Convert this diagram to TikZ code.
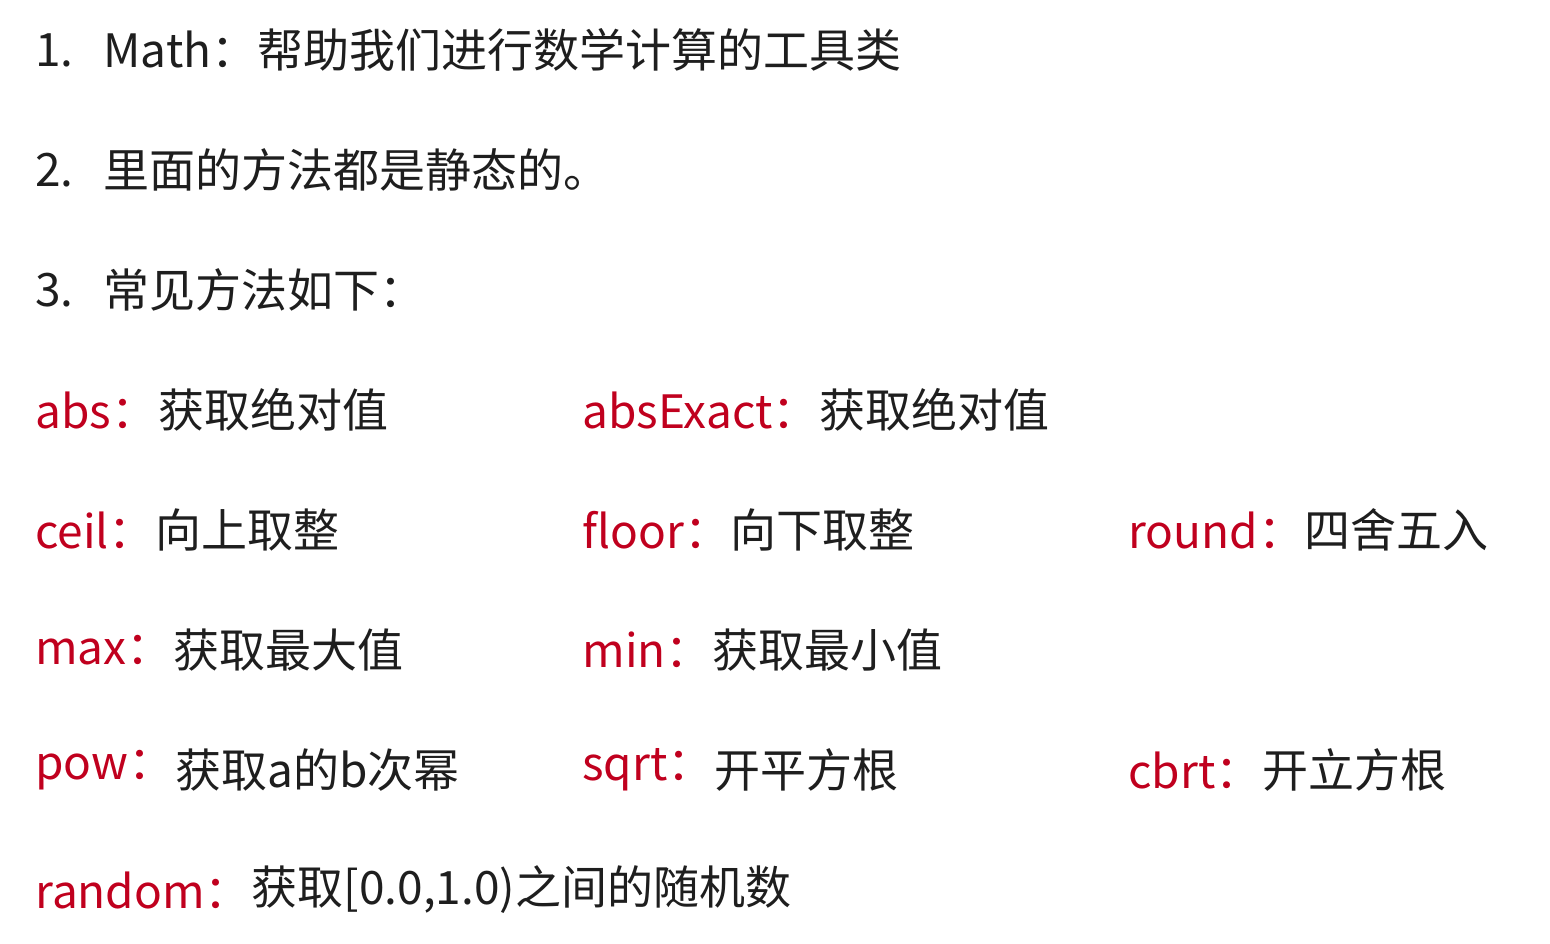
\documentclass[tikz,border=0pt]{standalone}
\usepackage{fontspec}
\setmainfont{Noto Sans CJK SC}
\definecolor{kw}{HTML}{C0001E}
\definecolor{tx}{HTML}{1E1E1E}
\begin{document}
\begin{tikzpicture}[x=0.5pt,y=-0.5pt,
  t/.style={anchor=west,inner sep=0pt,font=\fontsize{23}{28}\selectfont,text=tx},
  k/.style={t,text=kw}]
\useasboundingbox (0,0) rectangle (1550,943);
\node[t] (n1) at (35,50) {1.};
\node[t] (l1) at (103,50) {Math：帮助我们进行数学计算的工具类};
\node[t] (n2) at (35,170) {2.};
\node[t] (l2) at (103,170) {里面的方法都是静态的。};
\node[t] (n3) at (35,290) {3.};
\node[t] (l3) at (103,290) {常见方法如下：};
% row abs
\node[k] (a1) at (35,410) {abs：};
\node[t] (a1d) at (a1.east) [anchor=west] {获取绝对值};
\node[k] (a2) at (582,410) {absExact：};
\node[t] (a2d) at (a2.east) [anchor=west] {获取绝对值};
% row ceil
\node[k] (b1) at (35,530) {ceil：};
\node[t] (b1d) at (b1.east) [anchor=west] {向上取整};
\node[k] (b2) at (582,530) {floor：};
\node[t] (b2d) at (b2.east) [anchor=west] {向下取整};
\node[k] (b3) at (1128,530) {round：};
\node[t] (b3d) at (b3.east) [anchor=west] {四舍五入};
% row max
\node[k] (c1) at (35,650) {max：};
\node[t] (c1d) at (c1.east) [anchor=west] {获取最大值};
\node[k] (c2) at (582,650) {min：};
\node[t] (c2d) at (c2.east) [anchor=west] {获取最小值};
% row pow
\node[k] (d1) at (35,770) {pow：};
\node[t] (d1d) at (d1.east) [anchor=west] {获取a的b次幂};
\node[k] (d2) at (582,770) {sqrt：};
\node[t] (d2d) at (d2.east) [anchor=west] {开平方根};
\node[k] (d3) at (1128,770) {cbrt：};
\node[t] (d3d) at (d3.east) [anchor=west] {开立方根};
% random
\node[k] (e1) at (35,890) {random：};
\node[t] (e1d) at (e1.east) [anchor=west] {获取[0.0,1.0)之间的随机数};
\end{tikzpicture}
\end{document}
